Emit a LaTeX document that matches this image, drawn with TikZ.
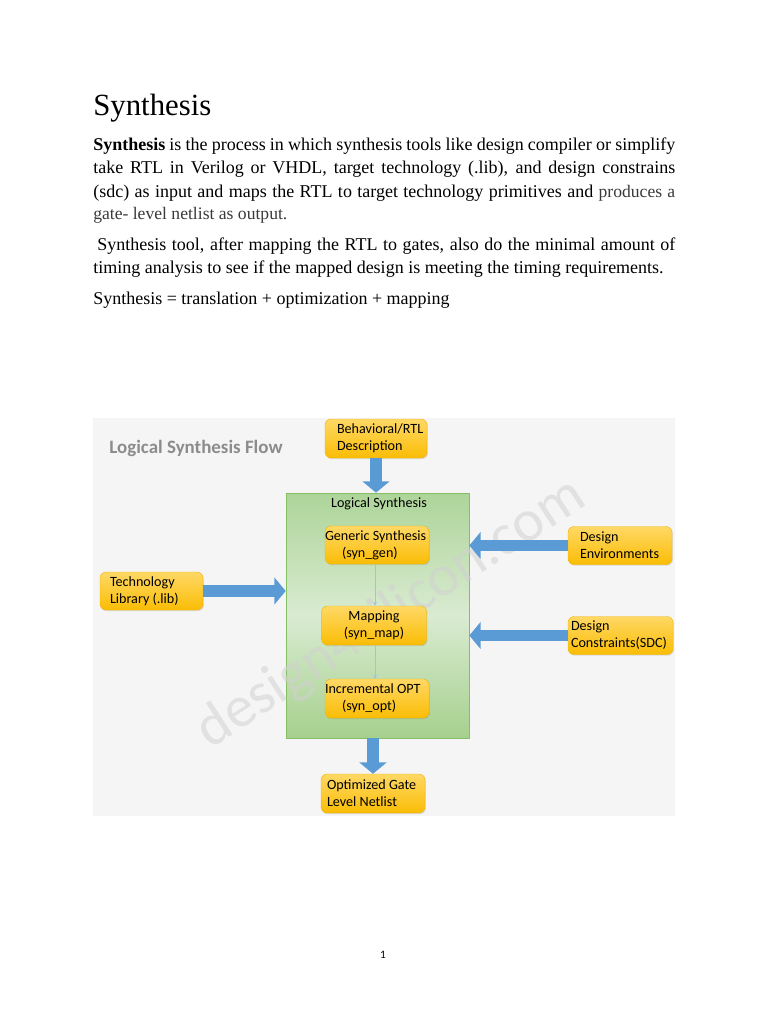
\documentclass[tikz,border=0pt]{standalone}
\usepackage{fontspec}
\setmainfont{Liberation Serif}
\newfontfamily\calib{Carlito}
\usetikzlibrary{arrows.meta,shadows}
\newlength\px \setlength\px{0.75pt}
\definecolor{bgray}{HTML}{F5F5F5}
\definecolor{gtop}{HTML}{ADD499}
\definecolor{gmid}{HTML}{D9EBD1}
\definecolor{gbot}{HTML}{A6D08E}
\definecolor{gline}{HTML}{86BE66}
\definecolor{ortop}{HTML}{FFD865}
\definecolor{orbot}{HTML}{FABD05}
\definecolor{orline}{HTML}{F0B400}
\definecolor{barrow}{HTML}{5B9BD5}
\definecolor{tarrow}{HTML}{9DC3E6}
\definecolor{titlegray}{HTML}{8C8C8C}
\definecolor{softtext}{HTML}{3A3A3A}
\begin{document}
\begin{tikzpicture}[x=0.75pt,y=-0.75pt,
  body/.style={anchor=base west,inner sep=0pt,font=\fontsize{13.5}{16}\selectfont},
  obox/.style={draw=orline,line width=0.3pt,rounded corners=4.5pt,top color=ortop,bottom color=orbot,
    inner ysep=0pt,align=flush left,font=\calib\fontsize{10.6}{12.9}\selectfont,
    drop shadow={shadow xshift=0.7pt,shadow yshift=-0.9pt,opacity=0.22}},
  gbox/.style={draw=gline,line width=0.5pt,top color=gtop,bottom color=gbot,middle color=gmid,inner sep=0pt},
  blockarrow/.style={draw=barrow,line width=8.6pt,line cap=butt,-{Triangle[width=20pt,length=8.5pt]}},
  thinarrow/.style={draw=tarrow,line width=0.7pt,-{Stealth[length=3pt,width=3pt]}}]
\useasboundingbox (0,0) rectangle (768,1024);
\fill[white] (0,0) rectangle (768,1024);
% --- text ---
\node[anchor=base west,inner sep=0pt,font=\fontsize{23.1}{26}\selectfont] (head) at (93,115) {Synthesis};
\node[body] (l1) at (93,150) {\makebox[436.5pt][s]{\textbf{Synthesis} is the process in which synthesis tools like design compiler or simplify}};
\node[body] (l2) at (93,173.5) {\makebox[436.5pt][s]{take RTL in Verilog or VHDL, target technology (.lib), and design constrains}};
\node[body] (l3) at (93,197) {\makebox[436.5pt][s]{(sdc) as input and maps the RTL to target technology primitives and \textcolor{softtext}{\fontsize{13.2}{16}\selectfont produces a}}};
\node[body,text=softtext,font=\fontsize{13.2}{16}\selectfont] (l4) at (93,219.5) {gate- level netlist as output.};
\node[body] (p1) at (97,250) {\makebox[433.5pt][s]{Synthesis tool, after mapping the RTL to gates, also do the minimal amount of}};
\node[body] (p2) at (93,273) {timing analysis to see if the mapped design is meeting the timing requirements.};
\node[body] (eq) at (93,304.5) {Synthesis = translation + optimization + mapping};
% --- diagram background ---
\fill[bgray] (93,418) rectangle (675,816);
\node[anchor=center,inner sep=0pt,text=titlegray,font=\calib\bfseries\fontsize{14.2}{16}\selectfont] (title) at (196,448) {Logical Synthesis Flow};
% green container
\node[gbox,minimum width=183\px,minimum height=245\px] (ls) at (377.5,615.5) {};
\node[inner sep=0pt,font=\calib\fontsize{10.6}{12.9}\selectfont] (lslab) at (379,504) {Logical Synthesis};
% watermark (behind the boxes and arrows)
\node[rotate=33,inner sep=0pt,text=black!18,text opacity=0.55,font=\calib\fontsize{44}{44}\selectfont] (wm) at (391,614) {design4silicon.com};
% orange boxes
\node[obox,text width=58.5pt,inner xsep=9pt,minimum height=39\px] (beh) at (376,438.5) {\mbox{Behavioral/RTL}\\\mbox{Description}};
\node[obox,text width=78pt,inner xsep=0pt,minimum height=38\px] (gen) at (377,545) {\mbox{Generic Synthesis}\\\mbox{\hspace*{12.75pt}(syn\_gen)}};
\node[obox,minimum width=105\px,inner xsep=0pt,minimum height=39\px,align=center] (map) at (374,625.5) {Mapping\\(syn\_map)};
\node[obox,text width=78pt,inner xsep=0pt,minimum height=39\px] (opt) at (377,698.5) {\mbox{Incremental OPT}\\\mbox{\hspace*{12.75pt}(syn\_opt)}};
\node[obox,text width=69pt,inner xsep=4.5pt,minimum height=39\px] (out) at (373,793.5) {\mbox{Optimized Gate}\\\mbox{Level Netlist}};
\node[obox,text width=62.25pt,inner xsep=7.5pt,minimum height=38\px] (tech) at (151.5,591) {\mbox{Technology}\\\mbox{Library (.lib)}};
\node[obox,text width=60pt,inner xsep=9pt,minimum height=38\px] (denv) at (620,545.5) {\mbox{Design}\\\mbox{Environments}};
\node[obox,text width=74.25pt,inner xsep=2.25pt,minimum height=38\px] (dcon) at (620.5,635.5) {\mbox{Design}\\\mbox{Constraints(SDC)}};
% connectors
\coordinate (tx) at (375,0);
\draw[blockarrow] (beh.south) -- (beh.south |- ls.north);
\draw[blockarrow] (ls.south -| out.north) -- (out.north);
\draw[blockarrow] (tech.east) -- (tech.east -| ls.west);
\draw[blockarrow] (denv.west) -- (denv.west -| ls.east);
\draw[blockarrow] (dcon.west) -- (dcon.west -| ls.east);
\draw[thinarrow] (gen.south -| tx) -- (map.north -| tx);
\draw[thinarrow] (map.south -| tx) -- (opt.north -| tx);
% page number
\node[inner sep=0pt,font=\calib\fontsize{8.5}{10}\selectfont] (pg) at (383,955) {1};
\end{tikzpicture}
\end{document}
